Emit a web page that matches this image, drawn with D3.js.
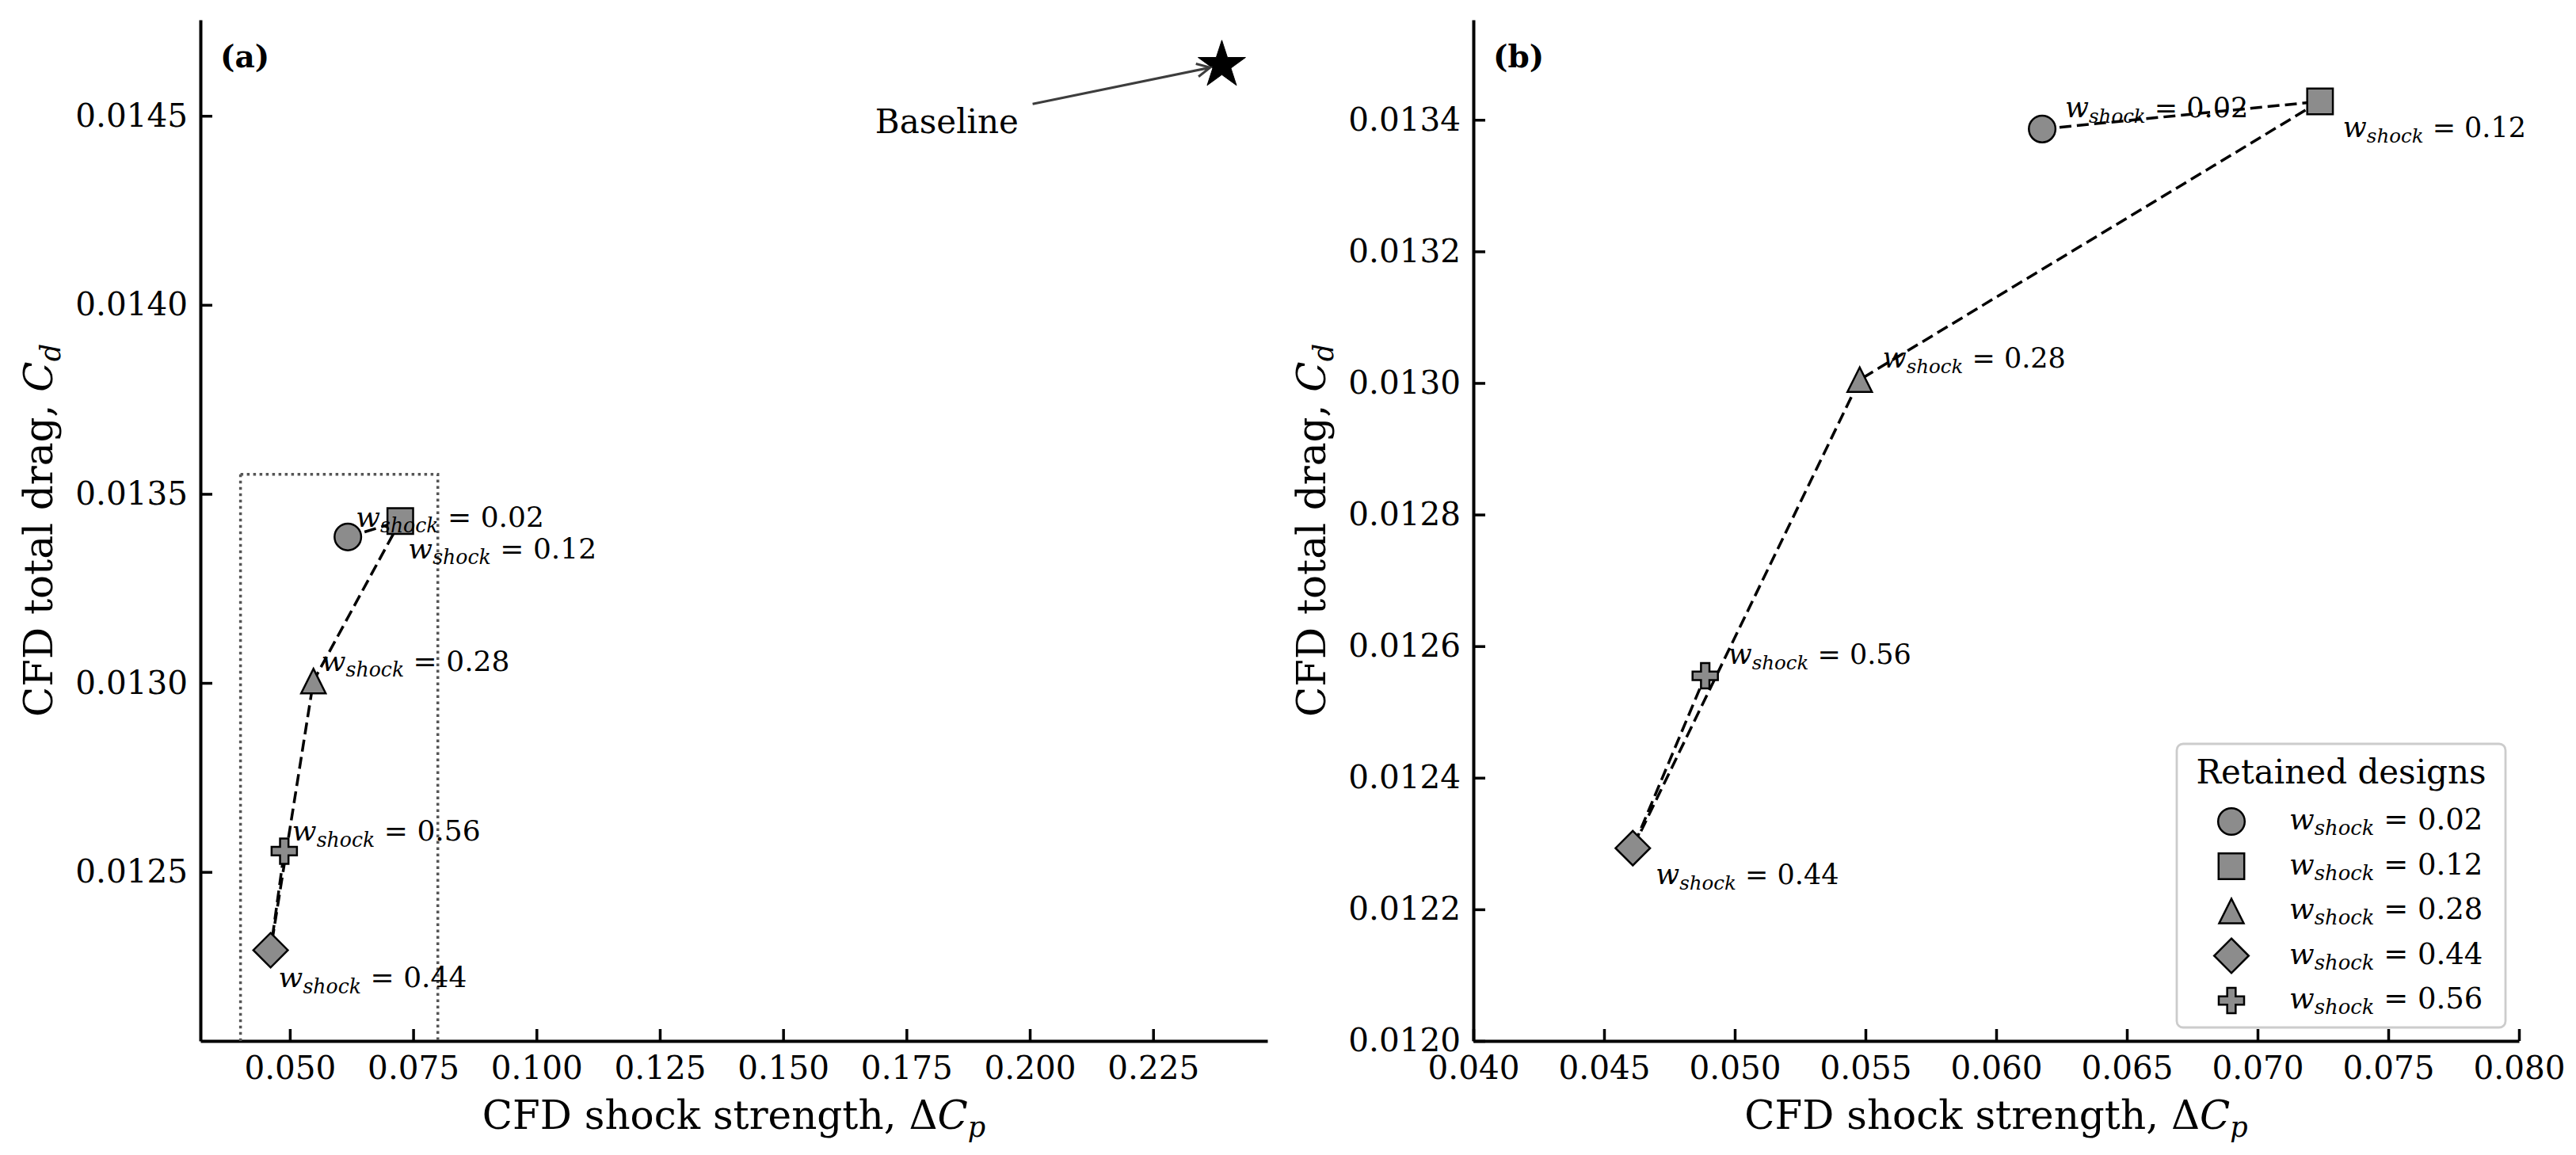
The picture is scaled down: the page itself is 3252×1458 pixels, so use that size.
<!DOCTYPE html>
<html>
<head>
<meta charset="utf-8">
<script src="https://cdn.jsdelivr.net/npm/d3@7"></script>
<style>
    body { margin: 0; background: #fff; }
    svg text { font-family: "DejaVu Serif", serif; fill: #000; }
</style>
</head>
<body>
<svg id="fig" width="3252" height="1458"></svg>
<script>
// retained designs, one per shock weight (plotted in this order)
const weights = [0.02, 0.12, 0.28, 0.44, 0.56];
const shockStrength = [0.06176, 0.07239, 0.05478, 0.04610, 0.04887];
const totalDrag = [0.013386, 0.013428, 0.013005, 0.012293, 0.012555];

// baseline design and where its label sits
const baselineShock = 0.23893;
const baselineDrag = 0.014634;
const baselineLabelAt = [0.1832, 0.014485];

// panel (a) view
const xDomainA = [0.03187, 0.24817];
const yDomainA = [0.012053, 0.014754];
const xTicksA = [0.050, 0.075, 0.100, 0.125, 0.150, 0.175, 0.200, 0.225];
const yTicksA = [0.0125, 0.0130, 0.0135, 0.0140, 0.0145];

// panel (b) view, also the dotted box drawn in (a)
const xDomainB = [0.040, 0.080];
const yDomainB = [0.0120, 0.013552];
const xTicksB = [0.040, 0.045, 0.050, 0.055, 0.060, 0.065, 0.070, 0.075, 0.080];
const yTicksB = [0.0120, 0.0122, 0.0124, 0.0126, 0.0128, 0.0130, 0.0132, 0.0134];

const legendTitle = "Retained designs";

const markerFill = "#8c8c8c";

// marker shapes, sized by half extent
const markCircle = { draw(c, r) { c.moveTo(r, 0); c.arc(0, 0, r, 0, 2 * Math.PI); } };
const markSquare = { draw(c, r) { c.rect(-r, -r, 2 * r, 2 * r); } };
const markTriangle = { draw(c, r) { c.moveTo(0, -r); c.lineTo(r, r); c.lineTo(-r, r); c.closePath(); } };
const markDiamond = { draw(c, r) { c.moveTo(0, -r); c.lineTo(r, 0); c.lineTo(0, r); c.lineTo(-r, 0); c.closePath(); } };
const markPlus = {
    draw(c, r) {
        let a = r / 3;
        c.moveTo(-a, -r); c.lineTo(a, -r); c.lineTo(a, -a); c.lineTo(r, -a);
        c.lineTo(r, a); c.lineTo(a, a); c.lineTo(a, r); c.lineTo(-a, r);
        c.lineTo(-a, a); c.lineTo(-r, a); c.lineTo(-r, -a); c.lineTo(-a, -a);
        c.closePath();
    }
};
const marks = [
    { type: markCircle, r: 16.8 },
    { type: markSquare, r: 16.2 },
    { type: markTriangle, r: 15.5 },
    { type: markDiamond, r: 21.8 },
    { type: markPlus, r: 16 },
];
// labels put under the marker instead of above it
const labelBelow = new Set([0.12, 0.44]);

function markPath(i) {
    return d3.symbol().type(marks[i].type).size(marks[i].r)();
}

function wLabel(text, w, size) {
    text.attr("font-size", size);
    text.append("tspan").attr("font-style", "italic").text("w");
    text.append("tspan").attr("font-style", "italic")
        .attr("font-size", size * 0.7).attr("dy", size * 0.2).text("shock");
    text.append("tspan").attr("dy", -size * 0.2).text(" = " + w.toFixed(2));
}

class Panel {
    constructor(svg, bounds, view) {
        this.svg = svg;
        this.g = svg.append("g");
        this.bounds = bounds;
        this.view = view;

        this.updateXScale();
        this.updateYScale();
        this.updateXAxis();
        this.updateYAxis();
    }

    updateXScale() {
        let range = [this.bounds.minX, this.bounds.maxX];
        this.scaleX = d3.scaleLinear().domain(this.view.xDomain).range(range);
    }

    updateYScale() {
        let range = [this.bounds.maxY, this.bounds.minY];
        this.scaleY = d3.scaleLinear().domain(this.view.yDomain).range(range);
    }

    styleAxis(axisG) {
        axisG.select(".domain").attr("stroke-width", 4);
        axisG.selectAll(".tick line").attr("stroke-width", 3.5);
        axisG.selectAll(".tick text")
            .attr("font-family", "DejaVu Serif")
            .attr("font-size", 40.5)
            .attr("fill", "#000");
    }

    updateXAxis() {
        let axisG = this.g.append("g")
            .attr("transform", `translate(0 ${this.bounds.maxY})`);
        let xAxis = d3.axisBottom(this.scaleX)
            .tickValues(this.view.xTicks)
            .tickFormat(d3.format(".3f"))
            .tickSizeInner(-15).tickSizeOuter(0).tickPadding(19);
        axisG.call(xAxis);
        this.styleAxis(axisG);

        let label = this.g.append("text")
            .attr("x", (this.bounds.minX + this.bounds.maxX) / 2)
            .attr("y", this.bounds.maxY + 111)
            .attr("text-anchor", "middle")
            .attr("font-size", 50);
        label.append("tspan").text("CFD shock strength, \u0394");
        label.append("tspan").attr("font-style", "italic").text("C");
        label.append("tspan").attr("font-style", "italic")
            .attr("font-size", 35).attr("dy", 10).text("p");
    }

    updateYAxis() {
        let axisG = this.g.append("g")
            .attr("transform", `translate(${this.bounds.minX} 0)`);
        let yAxis = d3.axisLeft(this.scaleY)
            .tickValues(this.view.yTicks)
            .tickFormat(d3.format(".4f"))
            .tickSizeInner(-15).tickSizeOuter(0).tickPadding(16);
        axisG.call(yAxis);
        this.styleAxis(axisG);

        let cy = (this.bounds.minY + this.bounds.maxY) / 2;
        let x = this.bounds.minX - 187;
        let label = this.g.append("text")
            .attr("transform", `translate(${x} ${cy}) rotate(-90)`)
            .attr("text-anchor", "middle")
            .attr("font-size", 50);
        label.append("tspan").text("CFD total drag, ");
        label.append("tspan").attr("font-style", "italic").text("C");
        label.append("tspan").attr("font-style", "italic")
            .attr("font-size", 35).attr("dy", 10).text("d");
    }

    panelTag(tag) {
        this.g.append("text")
            .attr("x", this.bounds.minX + 25)
            .attr("y", this.bounds.minY + 60)
            .attr("font-size", 39)
            .attr("font-weight", "bold")
            .text(tag);
    }

    drawDesigns(style) {
        let sx = this.scaleX, sy = this.scaleY;
        let idx = d3.range(weights.length);

        let line = d3.line()
            .x(i => sx(shockStrength[i]))
            .y(i => sy(totalDrag[i]));
        this.g.append("path")
            .attr("d", line(idx))
            .attr("fill", "none")
            .attr("stroke", "#000")
            .attr("stroke-width", 3.5)
            .attr("stroke-dasharray", "15,7");

        this.g.selectAll("path.design")
            .data(idx)
            .join("path")
            .attr("class", "design")
            .attr("transform", i => `translate(${sx(shockStrength[i])} ${sy(totalDrag[i])})`)
            .attr("d", i => markPath(i))
            .attr("fill", markerFill)
            .attr("stroke", "#000")
            .attr("stroke-width", 2.5);

        this.g.selectAll("text.wlabel")
            .data(idx)
            .join("text")
            .attr("class", "wlabel")
            .attr("x", i => sx(shockStrength[i]) + style.dx)
            .attr("y", i => sy(totalDrag[i]) + (labelBelow.has(weights[i]) ? style.dyBelow : style.dyAbove))
            .each(function (i) { wLabel(d3.select(this), weights[i], style.size); });
    }
}

const svg = d3.select("svg#fig");

// ---- panel (a)
const panelA = new Panel(svg,
    { minX: 253, maxX: 1600, minY: 25, maxY: 1314 },
    { xDomain: xDomainA, yDomain: yDomainA, xTicks: xTicksA, yTicks: yTicksA });

svg.append("clipPath").attr("id", "clip-a")
    .append("rect")
    .attr("x", panelA.bounds.minX).attr("y", panelA.bounds.minY)
    .attr("width", panelA.bounds.maxX - panelA.bounds.minX)
    .attr("height", panelA.bounds.maxY - panelA.bounds.minY);

// zoom box = panel (b) limits
panelA.g.append("rect")
    .attr("clip-path", "url(#clip-a)")
    .attr("x", panelA.scaleX(xDomainB[0]))
    .attr("y", panelA.scaleY(yDomainB[1]))
    .attr("width", panelA.scaleX(xDomainB[1]) - panelA.scaleX(xDomainB[0]))
    .attr("height", panelA.scaleY(yDomainB[0]) - panelA.scaleY(yDomainB[1]))
    .attr("fill", "none")
    .attr("stroke", "#555")
    .attr("stroke-width", 3.5)
    .attr("stroke-dasharray", "3.5,4.5");

panelA.drawDesigns({ dx: 10, dyAbove: -13, dyBelow: 47, size: 36 });

// baseline star + arrow
{
    let sx = panelA.scaleX, sy = panelA.scaleY;
    let star = [sx(baselineShock), sy(baselineDrag)];
    panelA.g.append("path")
        .attr("transform", `translate(${star[0]} ${star[1]})`)
        .attr("d", d3.symbol().type(d3.symbolStar).size(31.5 * 31.5 / 0.8908130915292852)())
        .attr("fill", "#000")
        .attr("stroke", "#000")
        .attr("stroke-width", 1);

    let label = panelA.g.append("text")
        .attr("x", sx(baselineLabelAt[0]))
        .attr("y", sy(baselineLabelAt[1]) + 14.5)
        .attr("text-anchor", "middle")
        .attr("font-size", 42)
        .text("Baseline");
    let bb = label.node().getBBox();
    let cx = bb.x + bb.width / 2, cy = bb.y + bb.height / 2;
    let dx = star[0] - cx, dy = star[1] - cy;
    let len = Math.hypot(dx, dy);
    let ux = dx / len, uy = dy / len;
    let tEdge = Math.min((bb.width / 2) / Math.abs(ux), (bb.height / 2) / Math.abs(uy));
    let start = [cx + ux * (tEdge + 18), cy + uy * (tEdge + 18)];
    let end = [star[0] - ux * 15, star[1] - uy * 15];
    let hl = 16.7, hw = 8.3;
    let p = d3.path();
    p.moveTo(start[0], start[1]);
    p.lineTo(end[0], end[1]);
    p.moveTo(end[0] - ux * hl - uy * hw, end[1] - uy * hl + ux * hw);
    p.lineTo(end[0], end[1]);
    p.lineTo(end[0] - ux * hl + uy * hw, end[1] - uy * hl - ux * hw);
    panelA.g.append("path")
        .attr("d", p.toString())
        .attr("fill", "none")
        .attr("stroke", "#3d3d3d")
        .attr("stroke-width", 3);
}
panelA.panelTag("(a)");

// ---- panel (b)
const panelB = new Panel(svg,
    { minX: 1860, maxX: 3180, minY: 25, maxY: 1314 },
    { xDomain: xDomainB, yDomain: yDomainB, xTicks: xTicksB, yTicks: yTicksB });

panelB.drawDesigns({ dx: 29, dyAbove: -15, dyBelow: 45, size: 35 });
panelB.panelTag("(b)");

// legend, lower right of (b)
{
    let w = 415, h = 358;
    let x0 = panelB.bounds.maxX - 17 - w;
    let y0 = panelB.bounds.maxY - 17 - h;
    let lg = panelB.g.append("g").attr("transform", `translate(${x0} ${y0})`);
    lg.append("rect")
        .attr("width", w).attr("height", h)
        .attr("rx", 8).attr("ry", 8)
        .attr("fill", "#fff").attr("fill-opacity", 0.8)
        .attr("stroke", "#cccccc").attr("stroke-width", 2.8);
    lg.append("text")
        .attr("x", w / 2).attr("y", 50)
        .attr("text-anchor", "middle")
        .attr("font-size", 42)
        .text(legendTitle);
    let rows = lg.selectAll("g.row")
        .data(d3.range(weights.length))
        .join("g")
        .attr("class", "row")
        .attr("transform", i => `translate(0 ${98 + i * 56.5})`);
    rows.append("path")
        .attr("transform", "translate(69 0)")
        .attr("d", i => markPath(i))
        .attr("fill", markerFill)
        .attr("stroke", "#000")
        .attr("stroke-width", 2.5);
    rows.append("text")
        .attr("x", 142).attr("y", 10)
        .each(function (i) { wLabel(d3.select(this), weights[i], 37); });
}
</script>
</body>
</html>
